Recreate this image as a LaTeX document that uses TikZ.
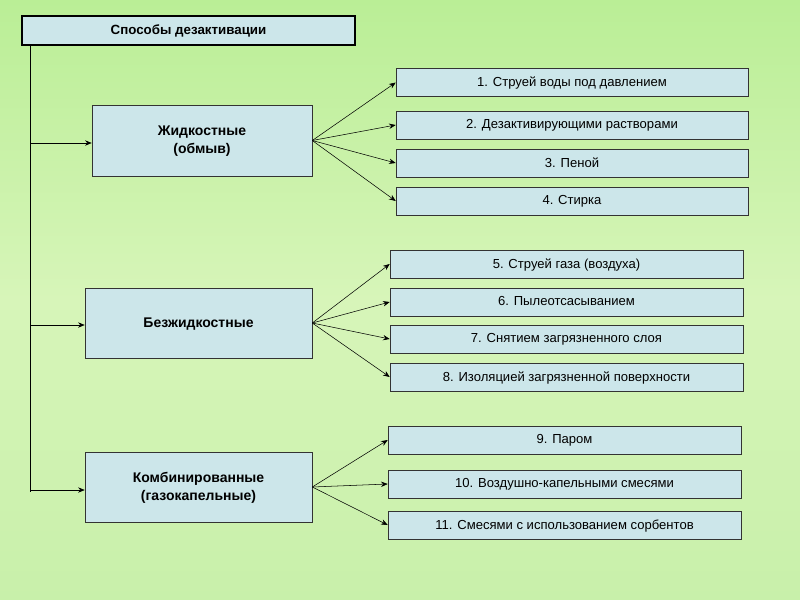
\documentclass[tikz,border=0pt]{standalone}
\usepackage{fontspec}
\usetikzlibrary{arrows.meta}
\setmainfont{Liberation Sans}
\begin{document}
\begin{tikzpicture}[x=0.75pt,y=-0.75pt,
  bx/.style={draw=black!80,fill={rgb,255:red,204;green,230;blue,234},inner sep=0pt,text depth=0.2ex,font=\fontsize{9.8pt}{11pt}\selectfont},
  hb/.style={bx,font=\bfseries\fontsize{10.5pt}{13pt}\selectfont,align=center},
  ar/.style={-{Stealth[length=5pt,width=4pt]},black}]
\shade[top color={rgb,255:red,186;green,238;blue,150},bottom color={rgb,255:red,200;green,240;blue,170},middle color={rgb,255:red,215;green,245;blue,185}] (0,0) rectangle (800,600);
\useasboundingbox (0,0) rectangle (800,600);
\node[bx,line width=1.5pt,draw=black,font=\bfseries\fontsize{10pt}{12pt}\selectfont,minimum width=333*0.75pt,minimum height=29*0.75pt] (t) at (188.5,30.5) {Способы дезактивации};
\node[hb,minimum width=220*0.75pt,minimum height=71*0.75pt] (a) at (202,140.5) {Жидкостные\\(обмыв)};
\node[hb,minimum width=227*0.75pt,minimum height=70*0.75pt] (b) at (198.5,323) {Безжидкостные};
\node[hb,minimum width=227*0.75pt,minimum height=70*0.75pt] (c) at (198.5,487) {Комбинированные\\(газокапельные)};
\foreach \n/\y/\t in {1/82.5/{1. Струей воды под давлением},2/125/{2. Дезактивирующими растворами},3/163/{3. Пеной},4/201/{4. Стирка}}
  {\node[bx,minimum width=352*0.75pt,minimum height=28*0.75pt] (r\n) at (572,\y) {\t};
   \draw[ar] (a.east) -- (r\n.west);}
\foreach \n/\y/\t in {5/264/{5. Струей газа (воздуха)},6/302/{6. Пылеотсасыванием},7/339/{7. Снятием загрязненного слоя},8/377/{8. Изоляцией загрязненной поверхности}}
  {\node[bx,minimum width=353*0.75pt,minimum height=28*0.75pt] (r\n) at (566.5,\y) {\t};
   \draw[ar] (b.east) -- (r\n.west);}
\foreach \n/\y/\t in {9/440/{9. Паром},10/484/{10. Воздушно-капельными смесями},11/525/{11. Смесями с использованием сорбентов}}
  {\node[bx,minimum width=353*0.75pt,minimum height=28*0.75pt] (r\n) at (564.5,\y) {\t};
   \draw[ar] (c.east) -- (r\n.west);}
\coordinate (top) at (30,45);
\coordinate (bot) at (30,492);
\draw (top) -- (bot);
\draw[ar] (30,143) -- (a.west |- 30,143);
\draw[ar] (30,325) -- (b.west |- 30,325);
\draw[ar] (30,490) -- (c.west |- 30,490);
\end{tikzpicture}
\end{document}
